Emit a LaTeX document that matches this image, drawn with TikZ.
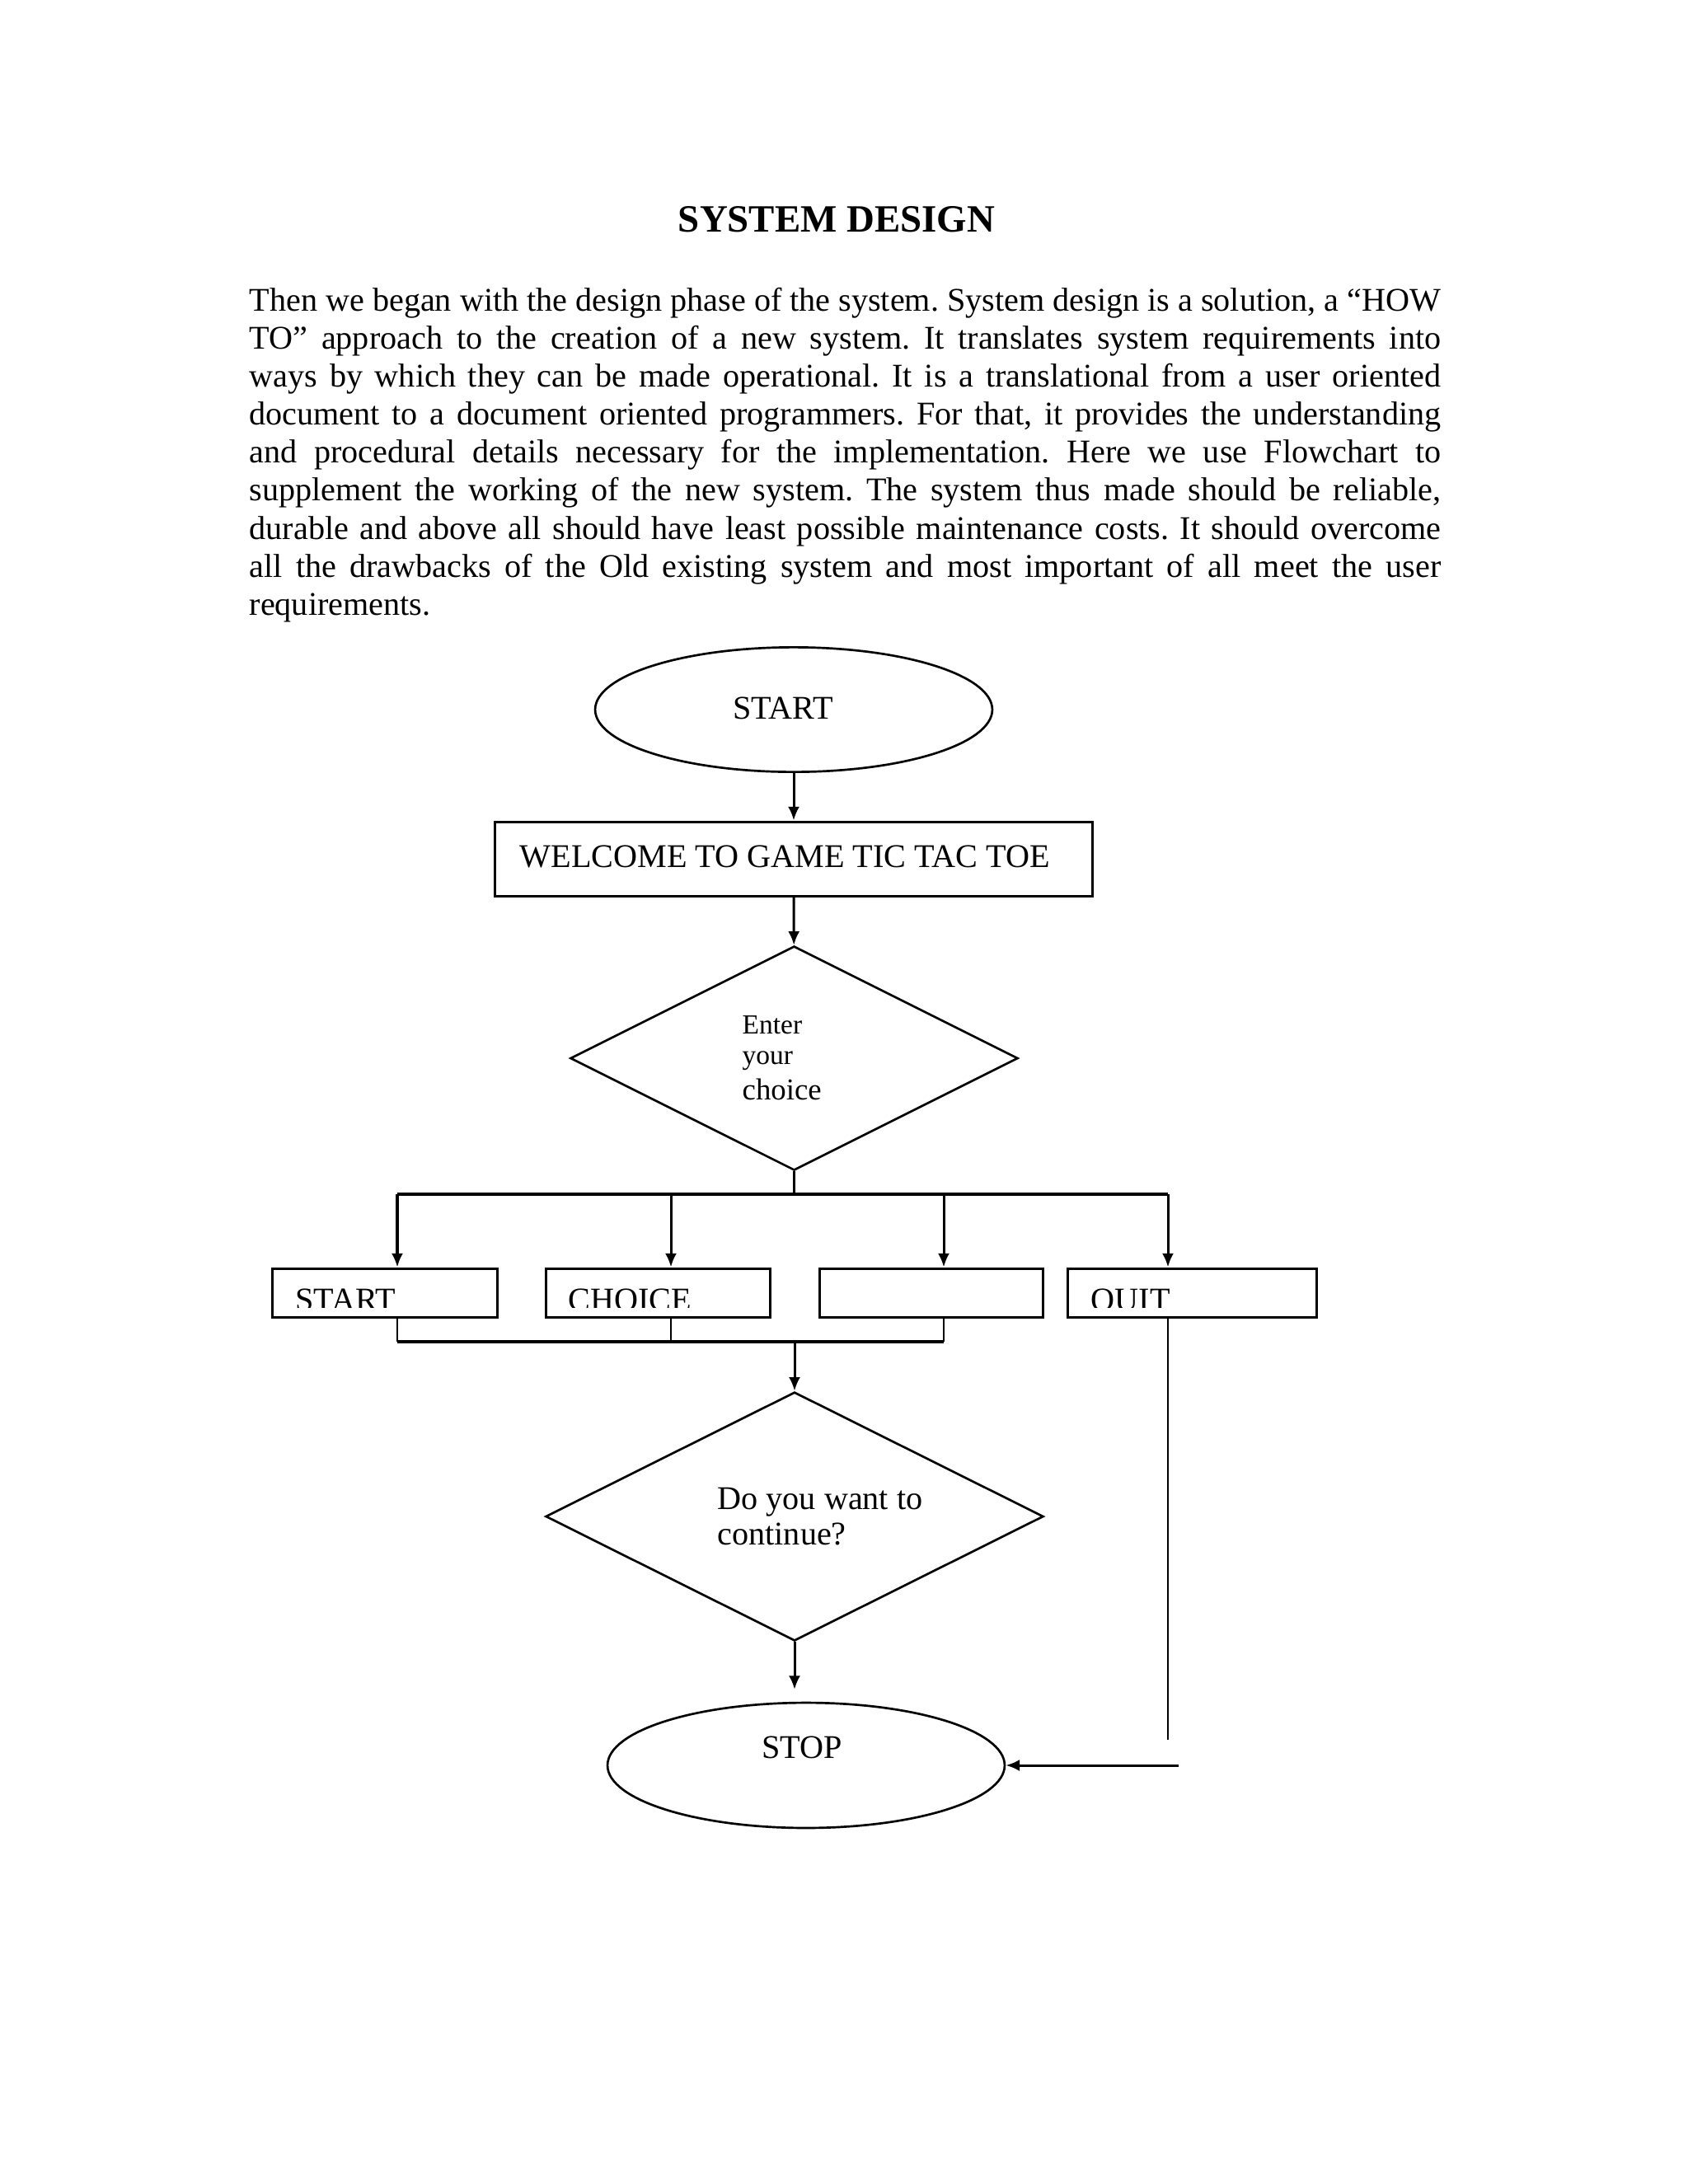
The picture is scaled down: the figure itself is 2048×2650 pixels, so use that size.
\documentclass[tikz,border=0pt]{standalone}
\usepackage{fontspec}
\setmainfont{Liberation Serif}
\usetikzlibrary{arrows.meta, shapes.geometric}

\begin{document}
\begin{tikzpicture}[
		x=0.29883pt, y=-0.29883pt,
		>=Latex,
		font=\fontsize{12}{13.8}\selectfont,
		terminal/.style={draw, ellipse, line width=0.8pt, inner sep=0pt, minimum width=144pt, minimum height=45.2pt},
		stepbox/.style ={draw, rectangle, line width=0.9pt, inner sep=0pt, minimum height=17.9pt},
		decision/.style={draw, diamond, line width=0.8pt, inner sep=0pt},
		flow/.style    ={-{Latex[length=5pt,width=4.2pt]}, line width=0.9pt},
		link/.style    ={line width=0.75pt},
		busline/.style ={line width=1pt},
		lab/.style     ={inner sep=0pt, anchor=base west}
		]
		\useasboundingbox[fill=white] (0,0) rectangle (2048,2650);
		
		% --- Heading and introduction ---
		\node[inner sep=0pt, anchor=base, font=\fontsize{14}{16}\selectfont\bfseries] (title) at (1015,281) {SYSTEM DESIGN};
		\node[lab] (intro) at (302,377) {\parbox[t]{432pt}{\frenchspacing
				Then we began with the design phase of the system. System design is a solution, a “HOW\linebreak
				TO” approach to the creation of a new system. It translates system requirements into\linebreak
				ways by which they can be made operational. It is a translational from a user oriented\linebreak
				document to a document oriented programmers. For that, it provides the understanding\linebreak
				and procedural details necessary for the implementation. Here we use Flowchart to\linebreak
				supplement the working of the new system. The system thus made should be reliable,\linebreak
				durable and above all should have least possible maintenance costs. It should overcome\linebreak
				all the drawbacks of the Old existing system and most important of all meet the user\linebreak
				requirements.}};
		
		% --- Top of the flow ---
		\node[terminal] (start) at (963,861) {};
		\node[lab, anchor=base] (starttxt) at (950,872) {START};
		\node[stepbox, minimum width=216.4pt, minimum height=26.9pt] (welcome) at (963,1042) {};
		\node[lab] (welcometxt) at (630,1052) {WELCOME TO GAME TIC TAC TOE};
		\node[decision, minimum width=162.3pt, minimum height=81.3pt] (choice) at (963.5,1284) {};
		\node[lab, font=\fontsize{10}{11}\selectfont] (entertxt)  at (900,1254) {Enter};
		\node[lab, font=\fontsize{10}{11}\selectfont] (yourtxt)   at (900,1291) {your};
		\node[lab, font=\fontsize{11}{13}\selectfont] (choicetxt) at (900,1334) {choice};
		
		\draw[flow] (start)   -- (welcome);
		\draw[flow] (welcome) -- (choice);
		
		% --- Options row ---
		\node[stepbox, minimum width=81.3pt] (optstart)  at (467,1569)    {};
		\node[stepbox, minimum width=81pt]   (optchoice) at (798.5,1569)  {};
		\node[stepbox, minimum width=80.7pt] (optblank)  at (1130,1569)   {};
		\node[stepbox, minimum width=90pt]   (optquit)   at (1446.5,1569) {};
		
		\begin{scope}
			\clip (300,1541) rectangle (1600,1586);
			\node[lab] (starttag)  at (358,1590)  {START};
			\node[lab] (choicetag) at (689,1590)  {CHOICE};
			\node[lab] (quittag)   at (1323,1590) {QUIT};
		\end{scope}
		
		\coordinate (busin) at (963.5,1449);
		\coordinate (tap1) at (482,1449);
		\coordinate (tap2) at (814,1449);
		\coordinate (tap3) at (1145,1449);
		\coordinate (tap4) at (1417,1449);
		
		\draw[link]    (choice.south) -- (busin);
		\draw[busline] (tap1) -- (tap4);
		\draw[flow] (tap1) -- (tap1 |- optstart.north);
		\draw[flow] (tap2) -- (tap2 |- optchoice.north);
		\draw[flow] (tap3) -- (tap3 |- optblank.north);
		\draw[flow] (tap4) -- (tap4 |- optquit.north);
		
		% merge below the options
		\coordinate (join1) at (482,1628);
		\coordinate (join2) at (814,1628);
		\coordinate (join3) at (1145,1628);
		\coordinate (merge) at (964,1628);
		
		\draw[link] (tap1 |- optstart.south) -- (join1);
		\draw[link] (tap2 |- optchoice.south) -- (join2);
		\draw[link] (tap3 |- optblank.south) -- (join3);
		\draw[busline] (join1) -- (join3);
		
		% --- Bottom of the flow ---
		\node[decision, minimum width=180.5pt, minimum height=90.2pt] (quest) at (964,1840) {};
		\node[lab] (questtxt1) at (870,1831) {Do you want to};
		\node[lab] (questtxt2) at (870,1874) {continue?};
		\node[terminal, minimum height=45.4pt] (stop) at (978,2142) {};
		\node[lab, anchor=base] (stoptxt) at (973,2133) {STOP};
		
		\coordinate (stopin)  at (964,2050);
		\coordinate (quitend) at (1417,2111);
		\coordinate (quitin)  at (1430,2142);
		
		\draw[flow] (merge) -- (quest.north);
		\draw[flow] (quest.south) -- (stopin);
		\draw[link] (tap4 |- optquit.south) -- (quitend);
		\draw[flow] (quitin) -- (stop.east);
		
	\end{tikzpicture}
\end{document}
